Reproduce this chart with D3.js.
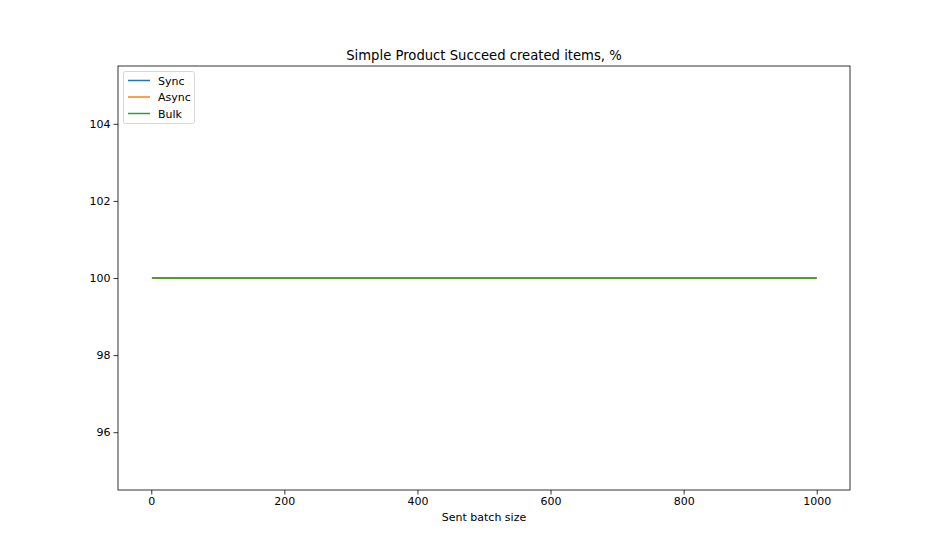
<!DOCTYPE html>
<html><head><meta charset="utf-8">
<script src="https://cdn.jsdelivr.net/npm/d3@7"></script>
<style>body{margin:0;background:#fff}svg{display:block;font-family:"DejaVu Sans",sans-serif}</style>
</head><body><svg id="c" width="943" height="550"></svg>
<script>
const batchSizes = [1, 10, 100, 1000];
const syncValues = [100, 100, 100, 100];
const asyncValues = [100, 100, 100, 100];
const bulkValues = [100, 100, 100, 100];
const seriesNames = ["Sync", "Async", "Bulk"];
const seriesColors = ["#1f77b4", "#ff7f0e", "#2ca02c"];
const xTicks = [0, 200, 400, 600, 800, 1000];
const yTicks = [96, 98, 100, 102, 104];

const svg = d3.select("#c");
const L = 118, R = 850, T = 66, B = 490;
const x = d3.scaleLinear().domain([-50, 1050]).range([L, R]);
const y = d3.scaleLinear().domain([94.5, 105.5]).range([B, T]);

const xa = svg.append("g").attr("transform", `translate(0,${B})`)
  .call(d3.axisBottom(x).tickValues(xTicks).tickSize(4.5).tickPadding(3).tickFormat(d3.format("d")));
const ya = svg.append("g").attr("transform", `translate(${L},0)`)
  .call(d3.axisLeft(y).tickValues(yTicks).tickSize(4.5).tickPadding(3).tickFormat(d3.format("d")));
[xa, ya].forEach(a => {
  a.select(".domain").remove();
  a.selectAll("text").attr("font-size", 11).attr("fill", "#000").attr("font-family", "DejaVu Sans");
  a.selectAll("line").attr("stroke", "#000").attr("stroke-width", 0.8);
});

const data = [syncValues, asyncValues, bulkValues];
const line = d3.line().x((d, i) => x(batchSizes[i])).y(d => y(d));
data.forEach((vals, k) => {
  svg.append("path").datum(vals).attr("d", line).attr("fill", "none")
    .attr("stroke", seriesColors[k]).attr("stroke-width", 1.5);
});

svg.append("rect").attr("x", L).attr("y", T).attr("width", R - L).attr("height", B - T)
  .attr("fill", "none").attr("stroke", "#000").attr("stroke-width", 0.8);

svg.append("text").attr("x", (L + R) / 2).attr("y", 60).attr("text-anchor", "middle")
  .attr("font-size", 13.2).text("Simple Product Succeed created items, %");
svg.append("text").attr("x", (L + R) / 2).attr("y", 521).attr("text-anchor", "middle")
  .attr("font-size", 11).text("Sent batch size");

const lg = svg.append("g");
lg.append("rect").attr("x", 123.5).attr("y", 71.5).attr("width", 71).attr("height", 52).attr("rx", 2)
  .attr("fill", "#fff").attr("fill-opacity", 0.8).attr("stroke", "#ccc").attr("stroke-width", 0.8);
seriesNames.forEach((n, i) => {
  const yy = 80.5 + i * 16.5;
  lg.append("line").attr("x1", 128).attr("x2", 150).attr("y1", yy).attr("y2", yy)
    .attr("stroke", seriesColors[i]).attr("stroke-width", 1.5);
  lg.append("text").attr("x", 158).attr("y", yy + 4).attr("font-size", 11).text(n);
});
</script></body></html>
